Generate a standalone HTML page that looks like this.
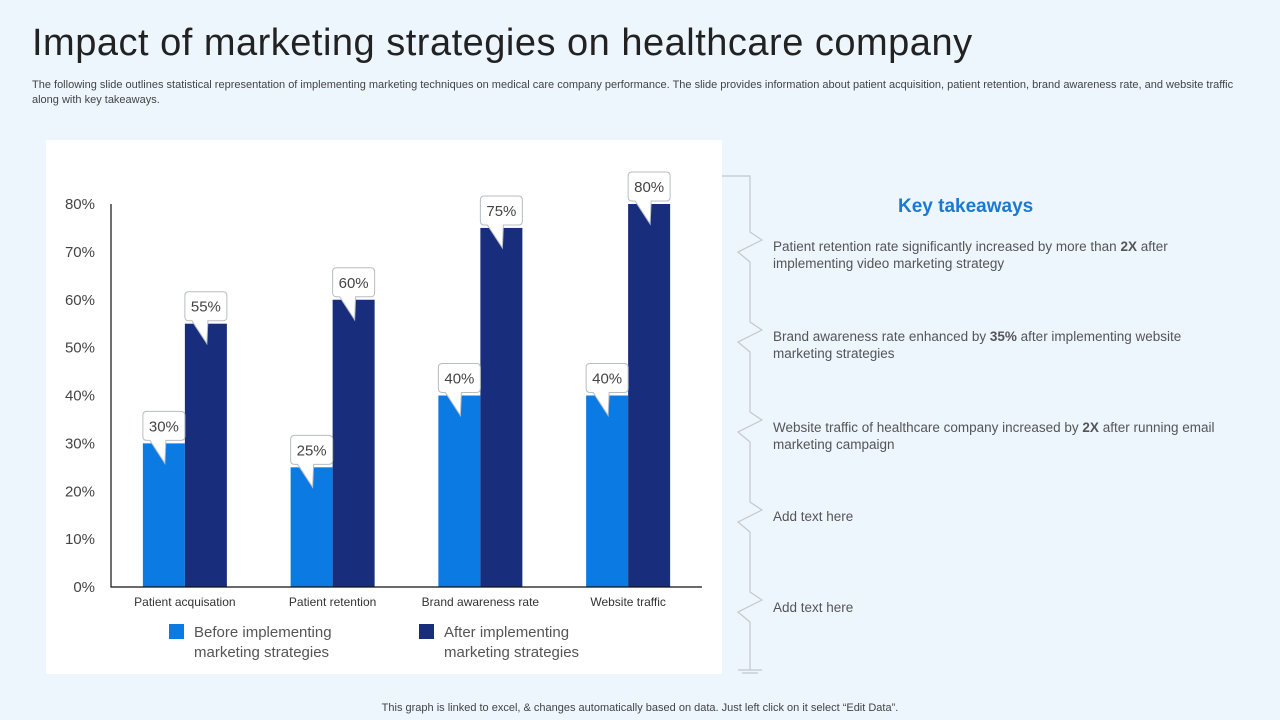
<!DOCTYPE html>
<html><head><meta charset="utf-8"><style>
body{margin:0;width:1280px;height:720px;background:#edf5fd;font-family:"Liberation Sans",sans-serif;overflow:hidden;position:relative}
.t{position:absolute;left:32px;top:22px;font-size:38px;color:#222;letter-spacing:0.5px}
.sub{position:absolute;left:32px;top:78px;width:1230px;font-size:11px;color:#444;line-height:15px}
.foot{position:absolute;left:0;width:1280px;top:702px;text-align:center;font-size:11px;color:#444}
.kt{position:absolute;left:898px;top:196px;font-size:19px;color:#1a7ad1;font-weight:bold}
.it{position:absolute;left:773px;width:470px;font-size:13.5px;color:#555;line-height:17px}
</style></head><body>
<div class="t">Impact of marketing strategies on healthcare company</div>
<div class="sub">The following slide outlines statistical representation of implementing marketing techniques on medical care company performance. The slide provides information about patient acquisition, patient retention, brand awareness rate, and website traffic along with key takeaways.</div>
<svg id="c" width="1280" height="720" style="position:absolute;left:0;top:0">
<rect x="46" y="140" width="676" height="534" fill="#fff"/>
<g id="g"></g>
<g font-size="15" fill="#555">
<rect x="169" y="624" width="15" height="15" fill="#0b7be3"/>
<text x="194" y="637">Before implementing</text><text x="194" y="657">marketing strategies</text>
<rect x="419" y="624" width="15" height="15" fill="#182e7d"/>
<text x="444" y="637">After implementing</text><text x="444" y="657">marketing strategies</text>
</g>
<path fill="none" stroke="#c4c8cc" stroke-width="1.2" d="M722 176H750V232L762 240L738 252L750 262V322L762 330L738 342L750 352V412L762 420L738 432L750 442V502L762 510L738 522L750 532V592L762 600L738 612L750 622V670M738 670H762M742 673H758"/>
</svg>
<div class="kt">Key takeaways</div>
<div class="it" style="top:238px">Patient retention rate significantly increased by more than <b>2X</b> after implementing video marketing strategy</div>
<div class="it" style="top:328px">Brand awareness rate enhanced by <b>35%</b> after implementing website marketing strategies</div>
<div class="it" style="top:419px">Website traffic of healthcare company increased by <b>2X</b> after running email marketing campaign</div>
<div class="it" style="top:508px">Add text here</div>
<div class="it" style="top:599px">Add text here</div>
<div class="foot">This graph is linked to excel, &amp; changes automatically based on data. Just left click on it select “Edit Data”.</div>
<script>
const categories=["Patient acquisation","Patient retention","Brand awareness rate","Website traffic"];
const before=[30,25,40,40];
const after=[55,60,75,80];
const yTicks=[0,10,20,30,40,50,60,70,80];
const NS="http://www.w3.org/2000/svg",g=document.getElementById('g');
const x0=111,x1=702,yb=587,yt=204,band=(x1-x0)/categories.length,bw=42;
const y=v=>yb-(v/80)*(yb-yt);
function mk(t,a,p){const e=document.createElementNS(NS,t);for(const k in a)e.setAttribute(k,a[k]);(p||g).appendChild(e);return e;}
yTicks.forEach(v=>{const e=mk('text',{x:95,y:y(v)+5,'text-anchor':'end','font-size':15,fill:'#444'});e.textContent=v+'%';

});
function call(cx,v){const top=y(v),by=top-3,bx=cx-21;
const p=mk('path',{d:`M${bx+4} ${by-29}H${bx+38}Q${bx+42} ${by-29} ${bx+42} ${by-25}V${by-4}Q${bx+42} ${by} ${bx+38} ${by}H${cx+2}L${cx+1} ${top+20}L${cx-14} ${by}H${bx+4}Q${bx} ${by} ${bx} ${by-4}V${by-25}Q${bx} ${by-29} ${bx+4} ${by-29}Z`,fill:'#fff',stroke:'#b8bcc4','stroke-width':1});


const t=mk('text',{x:cx,y:by-9,'text-anchor':'middle','font-size':15,fill:'#444'});t.textContent=v+'%';

}
categories.forEach((c,i)=>{const cx=x0+band*(i+0.5);
const r1=mk('rect',{x:cx-bw,y:y(before[i]),width:bw,height:yb-y(before[i]),fill:'#0b7be3'});


const r2=mk('rect',{x:cx,y:y(after[i]),width:bw,height:yb-y(after[i]),fill:'#182e7d'});


const t=mk('text',{x:cx,y:606,'text-anchor':'middle','font-size':12,fill:'#333'});t.textContent=c;

});
categories.forEach((c,i)=>{const cx=x0+band*(i+0.5);call(cx-bw/2,before[i]);call(cx+bw/2,after[i]);});
const ax=mk('path',{d:`M${x0} ${yt}V${yb}H${x1}`,fill:'none',stroke:'#111','stroke-width':1.2});


</script>
</body></html>
